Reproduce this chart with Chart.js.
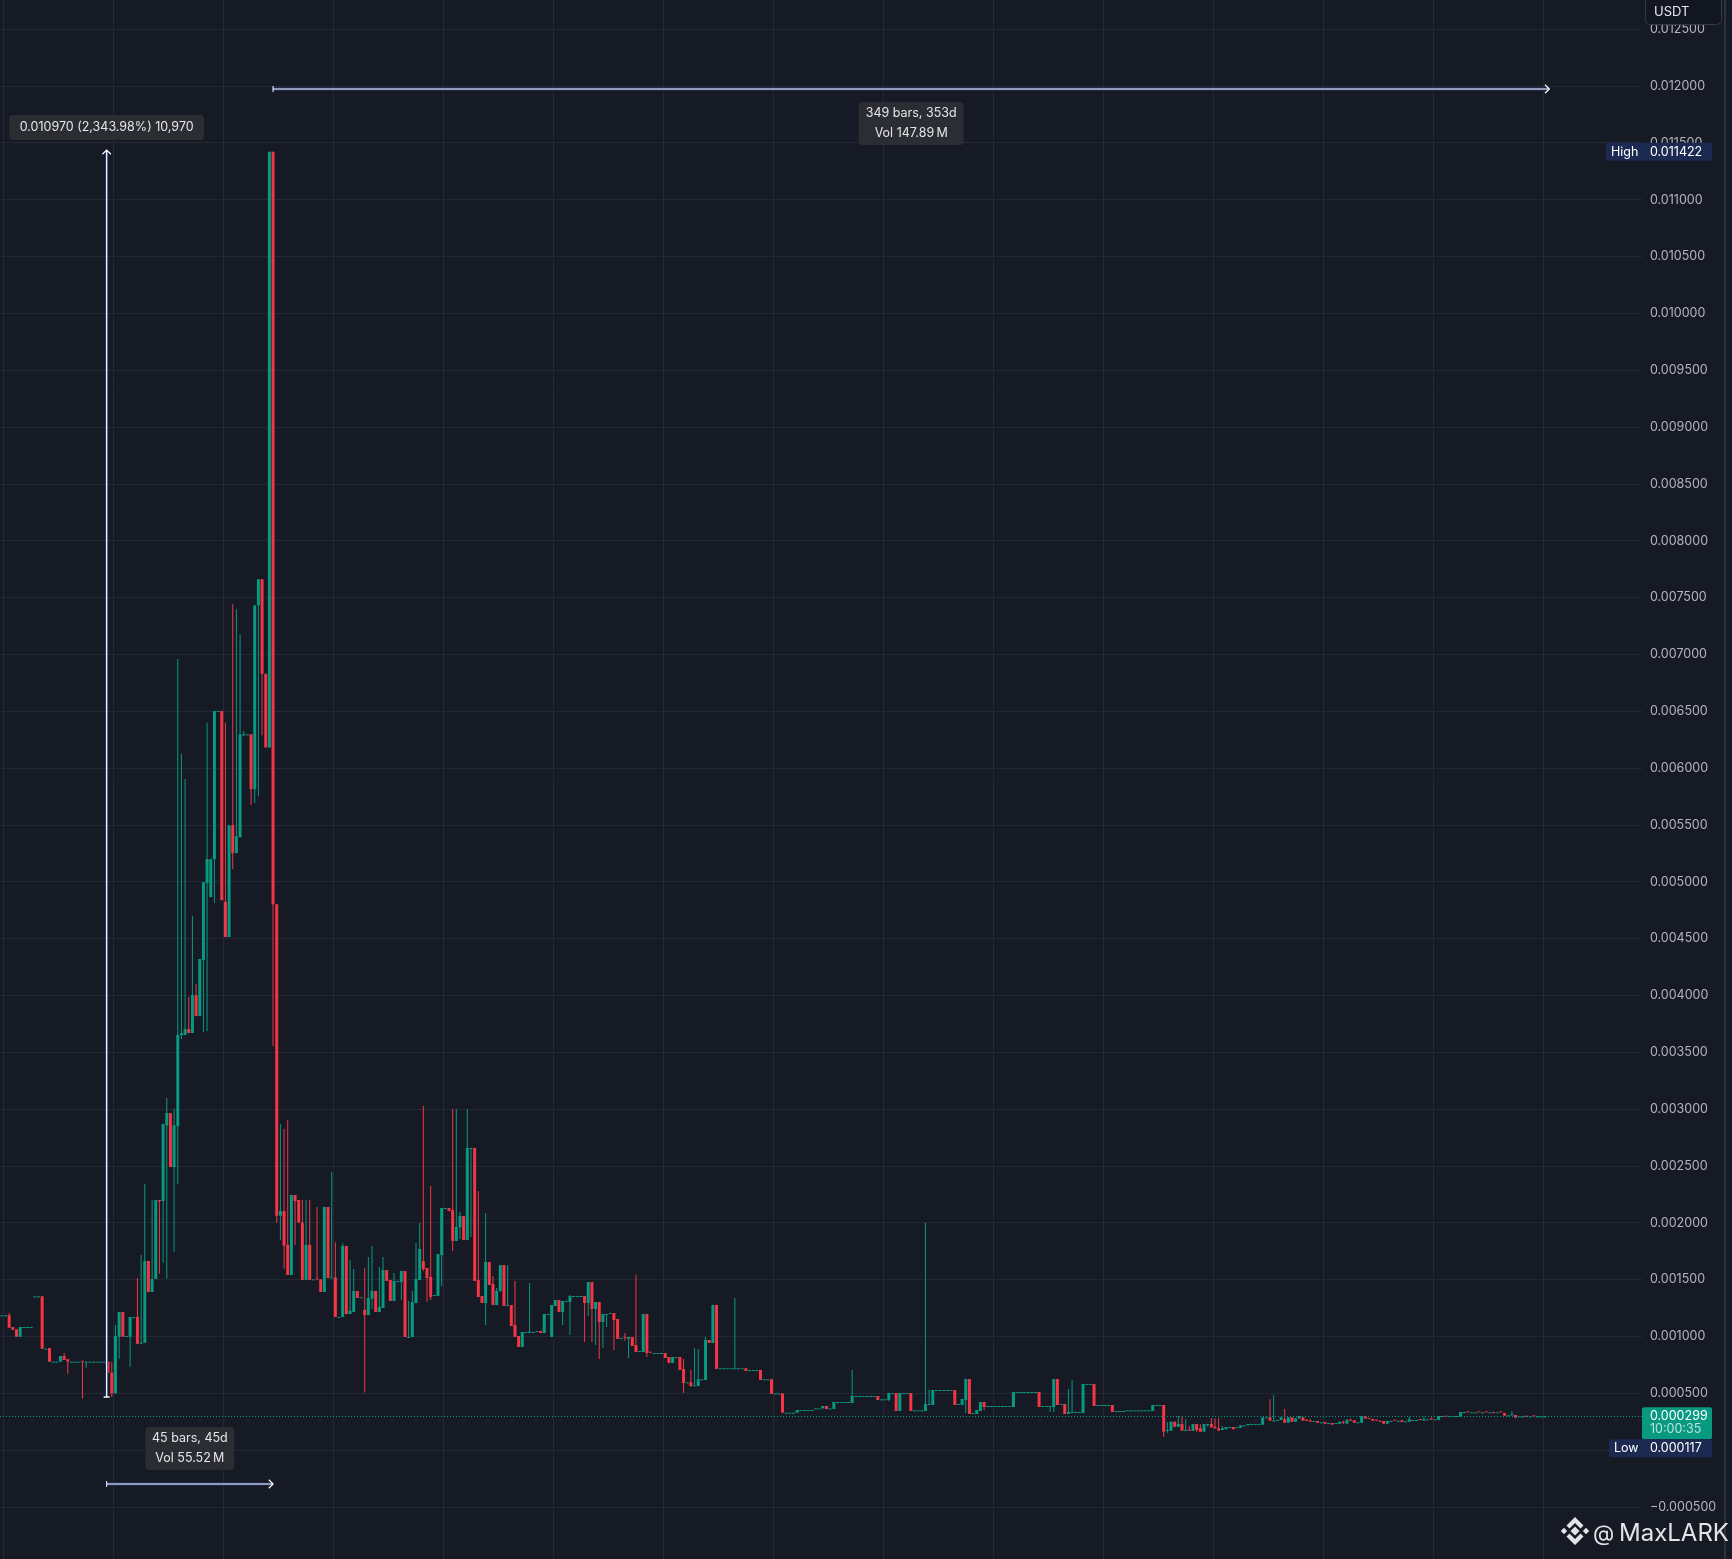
<!DOCTYPE html>
<html>
<head>
<meta charset="utf-8">
<title>USDT chart</title>
<script src="https://cdn.jsdelivr.net/npm/chart.js@4.4.1/dist/chart.umd.min.js"></script>
<style>
  html, body { margin: 0; padding: 0; background: #161a25; }
  #wrap { width: 1732px; height: 1559px; }
</style>
</head>
<body>
<div id="wrap"><canvas id="chart" width="1732" height="1559"></canvas></div>
<script>
// prices below are in USDT x 1e6 (daily candles)
const SCALE = 1e6;

const open = [
  1187,1187,1187,1084,1063,998,1084,1084,1084,1354,
  1354,1354,893,899,779,779,779,829,800,779,
  779,779,779,779,779,779,779,779,779,779,
  682,500,998,1216,1005,998,1172,1172,937,946,
  1665,1392,1506,2201,2192,2858,2966,2491,2851,3652,
  3652,3705,3670,4004,3819,4312,4989,4866,5200,6504,
  6504,4824,4515,5498,5253,5393,6298,6298,6298,5815,
  7433,7662,6830,6183,11422,4804,2063,2104,1806,1542,
  2245,2201,2002,1497,1806,1503,1503,1503,1392,2140,
  1520,1520,1172,1172,1797,1198,1216,1401,1345,1234,
  1189,1333,1401,1216,1251,1585,1497,1313,1489,1480,
  1577,996,996,1295,1497,1665,1603,1524,1365,1357,
  1717,2131,2131,2113,1841,1961,2061,1849,2659,2659,
  1497,1357,1295,1656,1462,1277,1398,1629,1277,1277,
  1102,1005,908,1040,1040,1040,1049,1049,1031,1198,
  996,1268,1322,1216,1313,1304,1357,1357,1357,1357,
  1295,1480,1242,1304,1128,1198,1207,1207,1154,988,
  996,979,996,926,873,864,1198,864,855,855,
  855,855,820,768,820,820,715,597,597,571,
  565,624,618,970,944,1278,721,721,721,721,
  721,721,721,721,706,706,706,706,624,624,
  624,500,500,500,330,330,330,330,354,354,
  354,354,368,368,368,389,368,363,424,424,
  424,424,416,477,477,477,477,477,477,477,
  448,448,442,503,503,345,503,503,503,351,
  351,351,345,407,398,530,530,530,530,530,
  530,407,398,442,627,327,319,345,424,389,
  389,389,389,389,389,389,380,512,512,512,
  512,512,512,512,389,389,389,380,627,407,
  407,319,336,336,336,327,583,583,583,398,
  398,398,398,398,345,345,345,351,351,351,
  351,351,351,351,345,398,398,398,178,172,
  251,207,231,178,178,172,231,193,163,231,
  231,207,193,178,184,204,204,204,198,219,
  219,231,231,231,225,289,289,260,266,266,
  272,242,289,251,280,289,266,260,257,257,
  245,248,239,239,239,233,245,233,269,263,
  245,242,301,284,275,269,260,257,233,257,
  261,260,263,254,251,266,266,267,260,272,
  278,272,266,301,301,301,301,301,295,336,
  336,333,333,334,333,334,333,333,333,334,
  327,307,307,310,298,298,298,298,299,289,
  298,289
];

const high = [
  1187,1187,1207,1084,1063,1084,1084,1084,1084,1354,
  1354,1354,893,899,779,779,829,855,800,779,
  779,779,779,779,779,779,779,779,779,779,
  779,1101,1216,1216,1005,1172,1172,1515,1717,2342,
  1665,2201,2201,2201,2869,3098,2966,3001,6960,6126,
  5905,3986,4700,4101,4321,4998,6399,5200,6504,6504,
  6504,6399,5498,7442,7398,7178,6330,6298,6298,7433,
  7662,7662,6830,11422,11422,4804,2869,2826,2905,2245,
  2245,2201,2201,2201,2201,1503,2140,1503,2140,2140,
  2448,1829,1172,1820,1797,1674,1594,1401,1345,1603,
  1700,1797,1401,1612,1700,1585,1497,1559,1489,1577,
  1577,1313,1401,1823,1999,3028,1603,2324,1365,1726,
  2131,2131,2131,3002,3002,2096,2061,3002,2659,2659,
  2280,1357,2087,1656,1533,1427,1629,1629,1629,1277,
  1489,1005,1040,1040,1471,1040,1049,1049,1198,1198,
  1277,1322,1322,1313,1313,1366,1357,1357,1357,1357,
  1480,1480,1304,1304,1198,1198,1207,1207,1154,988,
  1031,996,996,1542,873,1198,1198,864,855,855,
  855,855,820,820,820,820,803,597,706,899,
  891,624,996,970,1278,1278,721,721,721,721,
  1339,721,721,721,706,706,706,706,624,624,
  624,500,500,500,330,330,330,354,354,354,
  354,354,368,368,389,389,368,424,424,424,
  424,424,706,477,477,477,477,477,477,477,
  448,448,503,503,503,503,503,503,503,351,
  351,351,2000,530,530,530,530,530,530,530,
  530,407,451,627,627,327,354,424,424,389,
  389,389,389,389,389,389,512,512,512,512,
  512,512,512,512,389,389,389,627,627,407,
  407,539,618,336,336,583,583,583,583,398,
  398,398,398,398,345,345,345,351,351,351,
  351,351,351,351,398,398,398,398,248,251,
  251,301,301,272,213,231,231,231,231,231,
  283,280,283,213,204,204,204,204,219,219,
  231,231,231,231,289,289,449,484,266,289,
  362,289,289,280,301,289,275,275,257,257,
  245,248,239,239,239,251,260,269,275,263,
  245,301,301,284,275,269,260,257,257,257,
  261,260,263,254,295,266,266,267,295,272,
  287,272,301,301,301,301,301,301,336,336,
  336,333,333,334,333,334,333,333,333,334,
  327,307,345,310,298,298,298,298,299,298,
  298,299
];

const low = [
  1187,1187,1078,1060,998,998,1084,1084,1084,1354,
  1354,893,893,779,779,779,779,794,673,779,
  779,779,453,726,779,779,779,779,779,682,
  468,500,805,998,1005,735,1172,937,937,946,
  1392,1392,1506,1553,1650,1509,2491,1746,2342,3617,
  3652,3670,3670,3819,3819,3679,3688,4866,4815,6504,
  4839,4515,4515,5111,5253,5393,6280,6298,5674,5692,
  5753,6290,6183,6183,3555,2001,1849,1597,1542,1542,
  1806,2002,1497,1497,1497,1503,1502,1392,1392,1515,
  1520,1172,1172,1172,1198,1198,1216,1339,1345,507,
  1189,1242,1216,1216,1251,1489,1313,1313,1489,1321,
  996,996,996,1295,1497,1577,1304,1321,1365,1357,
  1445,2131,2104,1753,1841,1858,1849,1849,1876,1489,
  1348,1295,1102,1453,1277,1277,1398,1269,1277,1093,
  996,908,908,1040,1040,1040,1049,1031,1031,1198,
  996,1268,1216,1102,1313,1014,1357,1357,1357,952,
  1181,952,926,803,899,1084,1207,882,979,988,
  961,811,917,864,873,864,820,858,855,855,
  855,811,768,768,820,706,504,597,556,571,
  565,624,618,944,944,715,721,721,721,721,
  721,721,721,697,706,706,706,618,624,624,
  495,500,500,330,330,330,330,330,354,354,
  354,354,368,368,368,363,368,363,424,424,
  424,424,416,477,477,477,477,477,477,442,
  448,448,430,503,345,345,503,503,345,351,
  351,351,345,407,398,530,530,530,530,530,
  398,407,398,327,319,327,319,345,354,389,
  389,389,389,389,389,389,380,512,512,512,
  512,512,512,380,389,389,336,336,398,407,
  319,319,336,336,336,327,583,583,389,398,
  398,398,398,336,345,345,345,351,351,351,
  351,351,351,351,345,398,398,117,154,172,
  207,207,172,178,172,172,157,163,163,207,
  201,193,172,178,184,204,184,204,198,219,
  219,231,231,231,225,289,260,260,266,266,
  242,242,251,251,280,260,257,251,257,242,
  245,233,239,225,239,233,230,233,260,242,
  245,242,280,275,260,260,251,233,233,257,
  260,260,248,254,251,266,266,266,260,272,
  269,272,266,301,295,301,301,301,295,336,
  333,333,333,333,333,333,333,327,333,333,
  304,307,304,286,298,298,295,298,298,289,
  298,289
];

const close = [
  1187,1187,1078,1060,998,1084,1084,1084,1084,1354,
  1354,893,893,779,779,779,829,794,779,779,
  779,779,778,779,779,779,779,779,779,682,
  500,1005,1216,998,1005,1172,1172,937,946,1665,
  1392,1506,2201,2190,2869,2966,2491,2858,3652,3670,
  3705,3670,4004,3819,4321,4998,5200,5200,6504,6504,
  4839,4515,5498,5253,5402,6298,6298,6298,5815,7433,
  7662,6830,6183,11422,4804,2063,2104,1800,1542,2245,
  2192,2002,1497,1806,1497,1503,1502,1392,2140,1515,
  1520,1172,1172,1797,1198,1228,1401,1339,1345,1189,
  1339,1401,1216,1260,1585,1489,1313,1489,1489,1577,
  996,996,1304,1506,1770,1594,1515,1348,1365,1726,
  2131,2131,2104,1841,1964,2061,1849,2659,2659,1489,
  1348,1295,1656,1453,1277,1401,1629,1269,1277,1093,
  996,908,1040,1040,1040,1040,1049,1031,1198,1198,
  1277,1322,1216,1313,1313,1357,1357,1357,1357,1295,
  1480,1242,1304,1128,1198,1198,1207,1146,979,988,
  988,996,917,864,873,1198,855,858,855,855,
  855,811,768,820,820,706,591,597,565,571,
  624,624,970,944,1278,715,721,721,721,721,
  721,721,721,697,706,706,706,618,624,624,
  495,500,500,330,330,330,330,354,354,354,
  354,354,368,368,389,363,368,424,424,424,
  424,424,477,477,477,477,477,477,477,442,
  448,448,503,503,345,503,503,503,345,351,
  351,351,407,407,530,530,530,530,530,530,
  398,407,451,627,319,327,354,424,380,389,
  389,389,389,389,389,389,512,512,512,512,
  512,512,512,380,389,389,389,627,398,407,
  319,336,336,336,336,583,583,583,389,398,
  398,398,398,336,345,345,345,351,351,351,
  351,351,351,351,398,398,398,163,178,251,
  207,231,172,178,172,231,178,163,231,231,
  201,193,172,193,204,204,184,204,219,219,
  231,231,231,231,289,289,260,260,266,289,
  242,289,251,280,301,260,257,251,257,242,
  245,233,239,225,239,251,242,269,260,242,
  245,301,280,275,260,260,251,233,257,257,
  260,260,248,254,272,266,266,266,272,272,
  269,272,301,301,295,301,301,301,336,336,
  333,333,333,333,333,333,333,327,333,333,
  304,307,310,286,298,298,295,298,298,298,
  298,299
];

// price scale labels
const priceTicks = [
  -0.0005, 0, 0.0005, 0.001, 0.0015, 0.002, 0.0025, 0.003, 0.0035,
  0.004, 0.0045, 0.005, 0.0055, 0.006, 0.0065, 0.007, 0.0075, 0.008,
  0.0085, 0.009, 0.0095, 0.01, 0.0105, 0.011, 0.0115, 0.012, 0.0125
];
const priceMin = -0.000957;
const priceMax = 0.012758;

// day slots, the last ones are the empty right margin
const slotCount = 448;
const days = Array.from({ length: slotCount }, (_, i) => 'D' + (i + 1));

// measure tool readouts
const measurePrice = '0.010970 (2,343.98%) 10,970';
const measureLong = ['349 bars, 353d', 'Vol 147.89\u2009M'];
const measureShort = ['45 bars, 45d', 'Vol 55.52\u2009M'];
const clockText = '10:00:35';

const BG = '#161a25';
const GRID = '#242833';
const UP = '#089981';
const DOWN = '#f23645';
const FONT = 'Inter, "Noto Sans", sans-serif';

const barColors = close.map((c, i) => c >= open[i] ? UP : DOWN);
const bodyData = open.map((o, i) => [o / SCALE, close[i] / SCALE]);
const wickData = low.map((l, i) => [l / SCALE, high[i] / SCALE]);

const highest = Math.max(...high) / SCALE;
const lowest = Math.min(...low) / SCALE;
const lastPrice = close[close.length - 1] / SCALE;

function fmt(v) {
  return (v < 0 ? '\u2212' : '') + Math.abs(v).toFixed(6);
}

function box(ctx, x, y, w, h, r, fill) {
  ctx.beginPath();
  ctx.roundRect(x, y, w, h, r);
  ctx.fillStyle = fill;
  ctx.fill();
}

function measureLine(ctx, x1, y1, x2, y2) {
  ctx.save();
  ctx.lineCap = 'butt';
  ctx.strokeStyle = '#24356e';
  ctx.lineWidth = 3;
  ctx.beginPath(); ctx.moveTo(x1, y1); ctx.lineTo(x2, y2); ctx.stroke();
  ctx.strokeStyle = '#ffffff';
  ctx.lineWidth = 1.2;
  ctx.beginPath(); ctx.moveTo(x1, y1); ctx.lineTo(x2, y2); ctx.stroke();
  // chevron arrow head at (x2, y2)
  const a = Math.atan2(y2 - y1, x2 - x1);
  const s = 6;
  ctx.beginPath();
  ctx.moveTo(x2 - s * Math.cos(a - Math.PI / 4), y2 - s * Math.sin(a - Math.PI / 4));
  ctx.lineTo(x2, y2);
  ctx.lineTo(x2 - s * Math.cos(a + Math.PI / 4), y2 - s * Math.sin(a + Math.PI / 4));
  ctx.stroke();
  ctx.restore();
}

const overlay = {
  id: 'overlay',
  beforeDraw(chart) {
    const ctx = chart.ctx;
    ctx.save();
    ctx.fillStyle = BG;
    ctx.fillRect(0, 0, chart.width, chart.height);
    ctx.restore();
  },
  afterDatasetsDraw(chart) {
    const ctx = chart.ctx;
    const xs = chart.scales.x;
    const ys = chart.scales.y;
    const area = chart.chartArea;
    ctx.save();

    // last price dotted line
    const py = Math.round(ys.getPixelForValue(lastPrice)) + 0.5;
    ctx.strokeStyle = UP;
    ctx.lineWidth = 1;
    ctx.setLineDash([1, 2]);
    ctx.beginPath(); ctx.moveTo(area.left, py); ctx.lineTo(area.right, py); ctx.stroke();
    ctx.setLineDash([]);

    // price range measure
    const mx = xs.getPixelForValue(28.6);
    const myTop = ys.getPixelForValue(0.011438);
    const myBot = ys.getPixelForValue(0.000468);
    measureLine(ctx, mx, myBot, mx, myTop);
    ctx.strokeStyle = '#ffffff';
    ctx.lineWidth = 1.5;
    ctx.beginPath(); ctx.moveTo(mx - 3, myBot); ctx.lineTo(mx + 3, myBot); ctx.stroke();

    ctx.font = '12.5px ' + FONT;
    ctx.textBaseline = 'middle';
    ctx.textAlign = 'center';
    box(ctx, mx - 97.5, myTop - 35, 195, 25, 4, '#2c2d33');
    ctx.fillStyle = '#e3e5ea';
    ctx.fillText(measurePrice, mx, myTop - 22.5);

    // long date range measure
    const lx1 = xs.getPixelForValue(74);
    const lx2 = xs.getPixelForValue(422.2);
    const ly = ys.getPixelForValue(0.011975);
    measureLine(ctx, lx1, ly, lx2, ly);
    ctx.strokeStyle = '#ffffff';
    ctx.lineWidth = 1;
    ctx.beginPath(); ctx.moveTo(lx1, ly - 3); ctx.lineTo(lx1, ly + 3); ctx.stroke();
    const lmid = (lx1 + lx2) / 2;
    box(ctx, lmid - 52.5, ly + 13, 105, 43, 4, '#2c2d33');
    ctx.fillStyle = '#e3e5ea';
    ctx.fillText(measureLong[0], lmid, ly + 24);
    ctx.fillText(measureLong[1], lmid, ly + 44);

    // short date range measure
    const sx1 = xs.getPixelForValue(28.6);
    const sx2 = xs.getPixelForValue(74);
    const sy = ys.getPixelForValue(-0.000297);
    measureLine(ctx, sx1, sy, sx2, sy);
    ctx.strokeStyle = '#ffffff';
    ctx.lineWidth = 1;
    ctx.beginPath(); ctx.moveTo(sx1, sy - 3); ctx.lineTo(sx1, sy + 3); ctx.stroke();
    const smid = (sx1 + sx2) / 2;
    box(ctx, smid - 44.5, sy - 57, 89, 43, 4, '#2c2d33');
    ctx.fillStyle = '#e3e5ea';
    ctx.fillText(measureShort[0], smid, sy - 46);
    ctx.fillText(measureShort[1], smid, sy - 26);

    ctx.restore();
  },
  afterDraw(chart) {
    const ctx = chart.ctx;
    const ys = chart.scales.y;
    const ax = chart.chartArea.right;
    ctx.save();
    ctx.font = '12.5px ' + FONT;
    ctx.textBaseline = 'middle';
    ctx.textAlign = 'left';

    // right border
    ctx.fillStyle = '#2e323d';
    ctx.fillRect(1724, 0, 2, chart.height);

    // currency box
    ctx.beginPath();
    ctx.roundRect(1645.5, -5.5, 76, 30, 5);
    ctx.fillStyle = '#131722';
    ctx.fill();
    ctx.strokeStyle = '#363a45';
    ctx.lineWidth = 1;
    ctx.stroke();
    ctx.fillStyle = '#e6e8ee';
    ctx.font = '13px ' + FONT;
    ctx.fillText('USDT', 1654, 12);
    ctx.font = '12.5px ' + FONT;

    // high label
    const hy = ys.getPixelForValue(highest);
    box(ctx, ax - 36, hy - 9, 106, 18, 2, '#1c2a52');
    ctx.fillStyle = '#ffffff';
    ctx.fillText('High', ax - 31, hy);
    ctx.fillText(fmt(highest), ax + 8, hy);

    // last price label
    const py = ys.getPixelForValue(lastPrice);
    box(ctx, ax, py - 9, 70, 32, 2, UP);
    ctx.fillStyle = '#ffffff';
    ctx.fillText(fmt(lastPrice), ax + 8, py);
    ctx.fillStyle = 'rgba(255,255,255,0.72)';
    ctx.fillText(clockText, ax + 8, py + 13);

    // low label, pushed below the last price label
    const lwy = py + 23 + 9;
    box(ctx, ax - 33, lwy - 9, 103, 18, 2, '#1c2a52');
    ctx.fillStyle = '#ffffff';
    ctx.fillText('Low', ax - 28, lwy);
    ctx.fillText(fmt(lowest), ax + 8, lwy);

    // watermark
    const cx = 1575, cy = 1531;
    ctx.fillStyle = 'rgba(245,245,245,0.92)';
    const diamond = (x, y, r) => {
      ctx.beginPath();
      ctx.moveTo(x, y - r); ctx.lineTo(x + r, y); ctx.lineTo(x, y + r); ctx.lineTo(x - r, y);
      ctx.closePath(); ctx.fill();
    };
    diamond(cx, cy, 4.5);
    diamond(cx - 11, cy, 3.2);
    diamond(cx + 11, cy, 3.2);
    [-1, 1].forEach(d => {
      ctx.beginPath();
      ctx.moveTo(cx, cy + d * 14);
      ctx.lineTo(cx + 8.5, cy + d * 5.5);
      ctx.lineTo(cx + 5.5, cy + d * 2.5);
      ctx.lineTo(cx, cy + d * 8);
      ctx.lineTo(cx - 5.5, cy + d * 2.5);
      ctx.lineTo(cx - 8.5, cy + d * 5.5);
      ctx.closePath();
      ctx.fill();
    });
    ctx.textBaseline = 'alphabetic';
    ctx.font = '22px ' + FONT;
    ctx.fillText('@', 1593, 1541);
    ctx.font = '24px ' + FONT;
    ctx.fillText('MaxLARK', 1619, 1541);
    ctx.restore();
  }
};

new Chart(document.getElementById('chart'), {
  type: 'bar',
  data: {
    labels: days,
    datasets: [
      {
        label: 'wick',
        data: wickData,
        backgroundColor: barColors,
        barThickness: 1,
        grouped: false,
        inflateAmount: 0,
        borderWidth: 0,
        order: 2
      },
      {
        label: 'body',
        data: bodyData,
        backgroundColor: barColors,
        barThickness: 3,
        minBarLength: 1,
        grouped: false,
        inflateAmount: 0,
        borderWidth: 0,
        order: 1
      }
    ]
  },
  options: {
    responsive: false,
    animation: false,
    layout: { padding: 0 },
    plugins: {
      legend: { display: false },
      tooltip: { enabled: false }
    },
    scales: {
      x: {
        offset: true,
        border: { display: false },
        grid: {
          offset: true,
          drawTicks: false,
          color: c => (c.index % 30 === 1 ? GRID : 'rgba(0,0,0,0)')
        },
        ticks: { display: false },
        afterFit: s => {
          s.height = 0;
          s.paddingLeft = 0; s.paddingRight = 0; s.paddingTop = 0; s.paddingBottom = 0;
        }
      },
      y: {
        position: 'right',
        min: priceMin,
        max: priceMax,
        border: { display: false },
        grid: { color: GRID, drawTicks: false },
        afterBuildTicks: s => { s.ticks = priceTicks.map(v => ({ value: v })); },
        afterFit: s => {
          s.width = 90;
          s.paddingTop = 0; s.paddingBottom = 0;
        },
        ticks: {
          color: '#b2b5be',
          padding: 8,
          font: { family: FONT, size: 12.5 },
          callback: v => fmt(v)
        }
      }
    }
  },
  plugins: [overlay]
});
</script>
</body>
</html>
